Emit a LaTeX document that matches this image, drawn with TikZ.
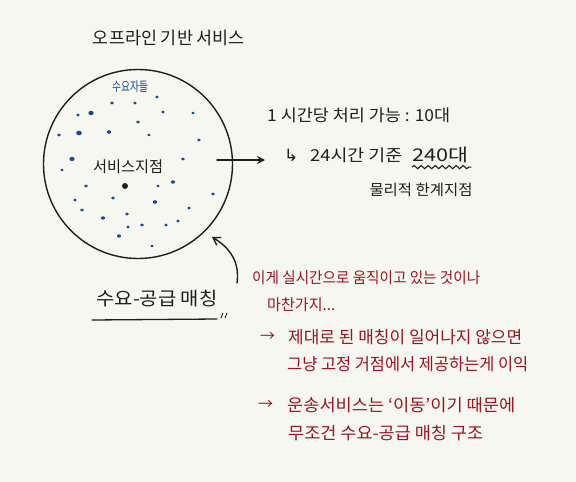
\documentclass[tikz,border=0pt]{standalone}
\usepackage{fontspec}
\usepackage{graphicx}
\setmainfont{Noto Sans CJK KR}
\newfontfamily\symfont{DejaVu Sans}
\usetikzlibrary{arrows.meta,decorations.pathmorphing}
\definecolor{bgc}{RGB}{247,247,242}
\definecolor{ink}{RGB}{30,30,30}
\definecolor{dotblue}{RGB}{20,75,155}
\definecolor{redink}{RGB}{155,20,30}
\newcommand{\fs}[1]{\fontsize{#1}{#1}\selectfont}
\newcommand{\fit}[3]{\resizebox{#1pt}{\height}{\fs{#2}#3}}
\begin{document}
\begin{tikzpicture}[x=1pt,y=-1pt,
  hand/.style={text=ink, inner sep=0pt},
  note/.style={text=redink, inner sep=0pt, anchor=west},
  stroke/.style={draw=ink, line width=1.4pt, line cap=round}]
\useasboundingbox[fill=bgc] (0,0) rectangle (576,482);
% title
\node[hand] (title) at (169,38) {\fit{152}{17.5}{오프라인 기반 서비스}};
% circle
\node[stroke, circle, minimum size=189pt, inner sep=0pt] (circ) at (138,164) {};
\node[hand, text=dotblue] (demand) at (130,87) {\fit{36}{13}{수요자들}};
\node[hand] (point) at (128,167) {\fit{70}{15.5}{서비스지점}};
\fill[ink] (125,186) circle (3);
% blue dots
\foreach \p/\r in {(112,103)/1.6,(135,103)/1.5,(157,97)/1.5,(78,115)/1.5,(91,113)/2.2,(163,112)/1.5,(193,113)/1.4,
  (138,122)/1.6,(59,135)/1.6,(79,133)/2.3,(109,132)/1.8,(149,135)/1.4,(199,140)/1.5,(72,159)/2.1,(183,159)/1.6,
  (62,170)/1.4,(86,186)/1.6,(158,186)/1.4,(173,182)/1.7,(213,194)/1.6,(75,200)/1.5,(113,198)/1.6,(155,202)/1.8,
  (189,208)/1.5,(82,210)/1.6,(127,214)/1.6,(103,218)/1.7,(128,227)/1.5,(142,225)/1.6,(166,225)/1.5,(178,221)/1.5,
  (119,236)/1.7,(152,246)/1.4}
  \fill[dotblue] \p ellipse ({\r*1.2} and \r);
% right arrow
\coordinate (a1) at (217,160);
\coordinate (a2) at (265,160);
\draw[stroke, -{Stealth[length=8pt,width=8pt]}] (a1) -- (a2);
\node[hand, anchor=west] (cap) at (267,115) {\fit{183}{16.5}{1 시간당 처리 가능 : 10대}};
\node[hand, anchor=west, font=\fs{17}] (hook) at (284,155) {{\symfont ↳}};
\node[hand, anchor=west] (day) at (310,155) {\fit{92}{16.5}{24시간 기준}};
\node[hand, anchor=west] (num) at (412,155) {\fit{56}{17.5}{240대}};
\coordinate (w1) at ([yshift=-4pt]num.south west);
\coordinate (w2) at ([yshift=-4pt,xshift=3pt]num.south east);
\draw[ink, line width=1.1pt, decorate, decoration={snake, segment length=7pt, amplitude=1.6pt}] (w1) -- (w2);
\node[hand] (limit) at (421,190) {\fit{103}{15}{물리적 한계지점}};
% matching label
\node[hand] (match) at (157,299) {\fit{121}{18.5}{수요-공급 매칭}};
\coordinate (u1) at (92,320);
\coordinate (u2) at (217,319);
\draw[stroke, line width=1.3pt] (u1) -- (u2);
\coordinate (t1) at (221,318); \coordinate (t2) at (223,313);
\coordinate (t3) at (225,318); \coordinate (t4) at (227,313);
\draw[ink, line width=0.9pt] (t1) -- (t2) (t3) -- (t4);
% curved arrow
\coordinate (c1) at (237,283);
\coordinate (c2) at (212,237);
\draw[stroke, -{Straight Barb[length=7pt,width=9pt]}] (c1) .. controls (240,262) and (230,248) .. (c2);
% red notes
\node[note] (n1) at (252,278) {\fit{228}{15.5}{이게 실시간으로 움직이고 있는 것이나}};
\node[note] (n2) at (267,305) {\fit{68}{15.5}{마찬가지...}};
\node[note, font=\fs{15}] (r1) at (260,337) {→};
\node[note] (n3) at (288,337) {\fit{234}{17}{제대로 된 매칭이 일어나지 않으면}};
\node[note] (n4) at (287,364) {\fit{241}{17}{그냥 고정 거점에서 제공하는게 이익}};
\node[note, font=\fs{15}] (r2) at (258,405) {→};
\node[note] (n5) at (287,405) {\fit{228}{17}{운송서비스는 ‘이동’이기 때문에}};
\node[note] (n6) at (288,433) {\fit{195}{17}{무조건 수요-공급 매칭 구조}};
\end{tikzpicture}
\end{document}
